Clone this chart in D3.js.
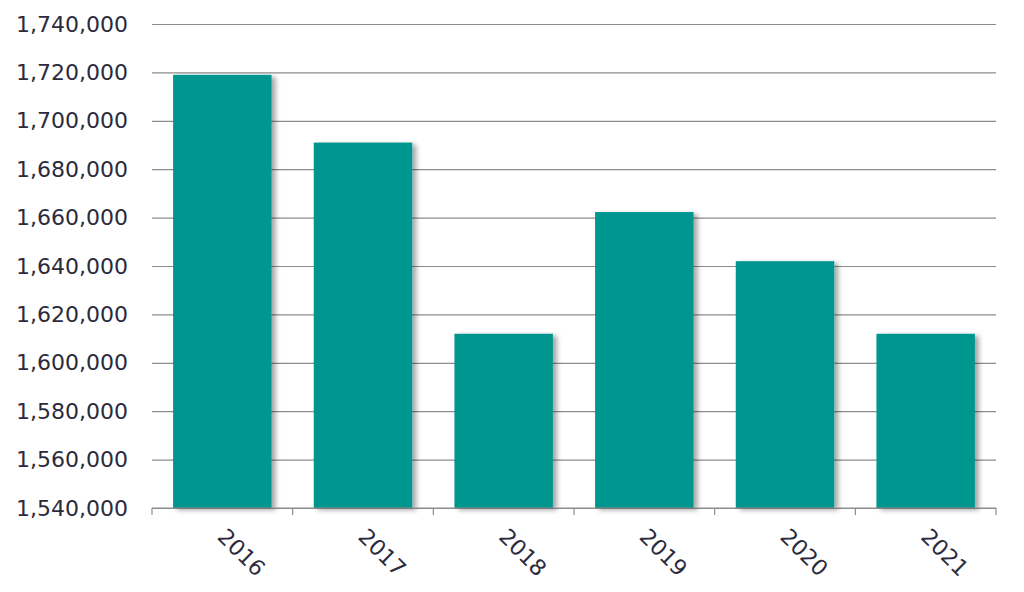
<!DOCTYPE html>
<html>
<head>
<meta charset="utf-8">
<script src="https://cdn.jsdelivr.net/npm/d3@7"></script>
<style>
  body { margin: 0; background: #fff; }
  svg text { font-family: "DejaVu Sans", sans-serif; fill: #2b2b3d; }
</style>
</head>
<body>
<div id="chart"></div>
<script>
"use strict";

// values
var years = ["2016", "2017", "2018", "2019", "2020", "2021"];
var totals = [1719000, 1691000, 1612000, 1662300, 1642000, 1612000];
var yTicks = [1540000, 1560000, 1580000, 1600000, 1620000, 1640000, 1660000, 1680000, 1700000, 1720000, 1740000];

var width = 1024, height = 592;
var margin = {top: 24, right: 28, bottom: 84, left: 152};

var svg = d3.select("#chart").append("svg")
    .attr("width", width)
    .attr("height", height);

var defs = svg.append("defs");
var shadow = defs.append("filter")
    .attr("id", "barShadow")
    .attr("x", "-10%").attr("y", "-10%")
    .attr("width", "130%").attr("height", "130%");
shadow.append("feDropShadow")
    .attr("dx", 4).attr("dy", 2)
    .attr("stdDeviation", 2.5)
    .attr("flood-color", "#000")
    .attr("flood-opacity", 0.35);

var x = d3.scaleBand()
    .domain(years)
    .range([margin.left, width - margin.right])
    .paddingInner(0.3)
    .paddingOuter(0.15);

var y = d3.scaleLinear()
    .domain([1540000, 1740000])
    .range([height - margin.bottom, margin.top]);

var fmt = d3.format(",");

// gridlines + y labels
var yAxis = d3.axisLeft(y)
    .tickValues(yTicks)
    .tickFormat(fmt)
    .tickSize(-(width - margin.right - margin.left))
    .tickPadding(24);

var gy = svg.append("g")
    .attr("transform", "translate(" + margin.left + ",0)")
    .call(yAxis);
gy.select(".domain").remove();
gy.selectAll(".tick line")
    .attr("stroke", "#8c8c8c")
    .attr("stroke-width", 1.2);
gy.selectAll(".tick text")
    .attr("font-size", "22px")
    .attr("fill", "#2b2b3d");

// bars
svg.append("g")
  .selectAll("rect")
  .data(totals)
  .enter()
  .append("rect")
    .attr("x", function(d, i) { return x(years[i]); })
    .attr("y", function(d) { return y(d); })
    .attr("width", x.bandwidth())
    .attr("height", function(d) { return y(1540000) - y(d); })
    .attr("fill", "#009690")
    .attr("filter", "url(#barShadow)");

// bottom axis: line with ticks at category boundaries
var step = x.step();
var x0 = margin.left, x1 = width - margin.right, yb = y(1540000);
var gx = svg.append("g");
gx.append("line")
    .attr("x1", x0).attr("x2", x1)
    .attr("y1", yb).attr("y2", yb)
    .attr("stroke", "#8c8c8c")
    .attr("stroke-width", 1.2);

var edges = years.map(function(d) { return x(d) - step * x.paddingOuter(); });
edges.push(x1);
gx.selectAll(".edge")
  .data(edges)
  .enter()
  .append("line")
    .attr("class", "edge")
    .attr("x1", function(d) { return d; })
    .attr("x2", function(d) { return d; })
    .attr("y1", yb)
    .attr("y2", yb + 7)
    .attr("stroke", "#8c8c8c")
    .attr("stroke-width", 1.2);

gx.selectAll(".xlabel")
  .data(years)
  .enter()
  .append("text")
    .attr("class", "xlabel")
    .attr("font-size", "22px")
    .attr("text-anchor", "start")
    .attr("transform", function(d) {
      var cx = x(d) + x.bandwidth() / 2 - 6;
      return "translate(" + cx + "," + (yb + 30) + ") rotate(45)";
    })
    .text(function(d) { return d; });
</script>
</body>
</html>
